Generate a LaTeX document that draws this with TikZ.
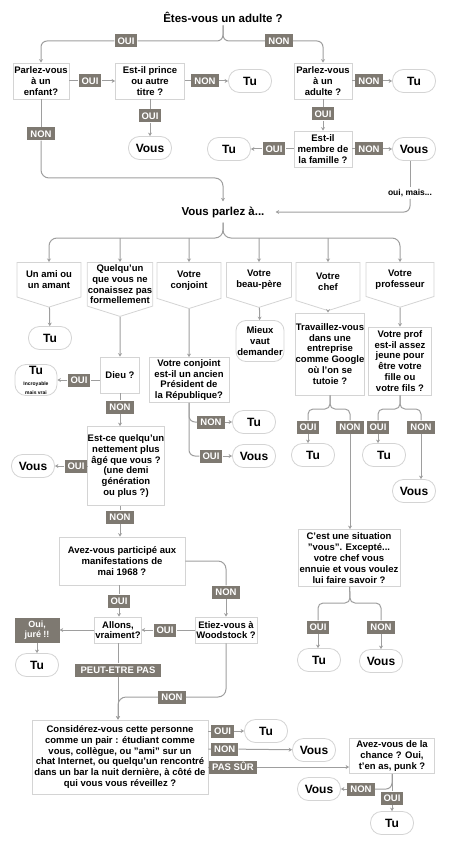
\documentclass[tikz,border=0pt]{standalone}
\usepackage{fontspec}
\setmainfont{Liberation Sans}
\usepackage{tikz}
\usetikzlibrary{arrows.meta,shapes.symbols}
\definecolor{line_gray}{RGB}{158,158,158}
\definecolor{lbl_gray}{RGB}{126,121,113}
\definecolor{box_gray}{RGB}{212,212,212}
\newcommand{\bodyfont}{\bfseries\fontsize{9.5}{10.8}\selectfont}
\tikzstyle{qbox}=[rectangle,draw=box_gray,fill=white,line width=0.8pt,
  align=center,inner sep=0.5pt,font=\bodyfont]
\tikzstyle{pill}=[rectangle,rounded corners=11pt,draw=box_gray,fill=white,
  line width=0.8pt,align=center,inner sep=1pt,minimum width=43pt,
  minimum height=23pt,font=\bfseries\fontsize{12}{13}\selectfont]
\tikzstyle{cat}=[signal,signal to=south,signal pointer angle=145,draw=box_gray,
  fill=white,line width=0.8pt,align=center,inner sep=0.5pt,font=\bodyfont,
  minimum width=64pt,minimum height=42pt]
\tikzstyle{lbl}=[rectangle,fill=lbl_gray,text=white,inner xsep=3pt,
  inner ysep=3pt,text height=7pt,text depth=0pt,font=\bodyfont]
\tikzstyle{big}=[font=\bfseries\fontsize{11.5}{13}\selectfont]
\tikzstyle{conn}=[draw=line_gray,line width=1pt]
\tikzstyle{arr}=[conn,-{Stealth[length=3.5pt,width=4pt]}]

\begin{document}
\begin{tikzpicture}[x=1pt,y=-1pt]
        \useasboundingbox (0,0) rectangle (448,845);
        \node [style=big,inner sep=3pt] (adulte) at (223,17) {Êtes-vous un adulte ?};
        \node [style=qbox,minimum width=56pt,minimum height=36pt] (enfant) at (41,81) {Parlez-vous\\à un\\enfant?};
        \node [style=qbox,minimum width=69pt,minimum height=36pt] (prince) at (150,81) {Est-il prince\\ou autre\\titre ?};
        \node [style=pill] (tu1) at (250,81) {Tu};
        \node [style=qbox,minimum width=58pt,minimum height=36pt] (aadulte) at (323,81) {Parlez-vous\\à un\\adulte ?};
        \node [style=pill] (tu2) at (414,81) {Tu};
        \node [style=pill] (vous1) at (150,148) {Vous};
        \node [style=qbox,minimum width=58pt,minimum height=36pt] (famille) at (323,149) {Est-il\\membre de\\la famille ?};
        \node [style=pill] (tu3) at (229,149) {Tu};
        \node [style=pill] (vous2) at (414,149) {Vous};
        \node [fill=white,inner sep=2pt,font=\bfseries\fontsize{8.5}{10}\selectfont] (mais) at (410,193) {oui, mais...};
        \node [style=big,inner xsep=11pt,inner ysep=5pt] (parlez) at (223,212) {Vous parlez à...};
        \node [style=lbl] (o1) at (126,41) {OUI};
        \node [style=lbl] (n1) at (279,41) {NON};
        \node [style=lbl] (o2) at (90,81) {OUI};
        \node [style=lbl] (n2) at (205,81) {NON};
        \node [style=lbl] (n3) at (369,81) {NON};
        \node [style=lbl] (o3) at (150,116) {OUI};
        \node [style=lbl] (o4) at (323,114) {OUI};
        \node [style=lbl] (o5) at (274,149) {OUI};
        \node [style=lbl] (n4) at (369,149) {NON};
        \node [style=lbl] (n5) at (41,134) {NON};
        \coordinate (ja) at (223,178);
        \coordinate (jl) at (49,238);
        \coordinate (jr) at (400,238);

        \node [style=cat,anchor=north] (ami) at (49,262) {Un ami ou\\un amant};
        \node [style=cat,anchor=north,minimum height=54pt] (inconnu) at (120,262) {Quelqu'un\\que vous ne\\conaissez pas\\formellement};
        \node [style=cat,anchor=north] (conjoint) at (189,262) {Votre\\conjoint};
        \node [style=cat,anchor=north,minimum width=65pt] (beaupere) at (259,262) {Votre\\beau-père};
        \node [style=cat,anchor=north] (chef) at (328,262) {Votre\\chef};
        \node [style=cat,anchor=north,minimum width=68pt] (prof) at (400,262) {Votre\\professeur};

        \node [style=pill] (tu4) at (50,338) {Tu};
        \node [style=qbox,minimum width=39pt,minimum height=36pt] (dieu) at (120,375) {Dieu ?};
        \node [style=pill,minimum width=42pt,minimum height=31pt] (tu5) at (36,380) {Tu\\[-2pt]{\fontsize{5}{5.5}\selectfont Incroyable}\\[-4pt]{\fontsize{5}{5.5}\selectfont mais vrai}};
        \node [style=lbl] (o6) at (79,380) {OUI};
        \node [style=lbl] (n6) at (120,407) {NON};
        \node [style=qbox,minimum width=76pt,minimum height=79pt] (age) at (126,466) {Est-ce quelqu'un\\nettement plus\\âgé que vous ?\\(une demi\\génération\\ou plus ?)};
        \node [style=lbl] (o7) at (76,466) {OUI};
        \node [style=pill] (vous3) at (33,466) {Vous};
        \node [style=lbl] (n7) at (120,517) {NON};
        \node [style=qbox,minimum width=80pt,minimum height=45pt] (pres) at (189,380) {Votre conjoint\\est-il un ancien\\Président de\\la République?};
        \node [style=lbl] (n8) at (211,422) {NON};
        \node [style=pill] (tu6) at (254,422) {Tu};
        \node [style=lbl] (o8) at (211,456) {OUI};
        \node [style=pill] (vous4) at (254,456) {Vous};
        \node [style=pill,minimum width=48pt,minimum height=41pt,rounded corners=10pt,font=\bodyfont] (mieux) at (260,341) {Mieux\\vaut\\demander};
        \node [style=qbox,minimum width=68pt,minimum height=82pt] (google) at (330,354) {Travaillez-vous\\dans une\\entreprise\\comme Google\\où l'on se\\tutoie ?};
        \coordinate (jg) at (330,409);
        \node [style=lbl] (o9) at (308,427) {OUI};
        \node [style=lbl] (n9) at (350,427) {NON};
        \node [style=pill] (tu7) at (313,455) {Tu};
        \node [style=qbox,minimum width=63pt,minimum height=68pt] (jeune) at (400,361) {Votre prof\\est-il assez\\jeune pour\\être votre\\fille ou\\votre fils ?};
        \coordinate (jp) at (400,409);
        \node [style=lbl] (o10) at (378,427) {OUI};
        \node [style=lbl] (n10) at (421,427) {NON};
        \node [style=pill] (tu8) at (384,455) {Tu};
        \node [style=pill] (vous5) at (414,491) {Vous};

        \node [style=qbox,minimum width=102pt,minimum height=57pt] (vexe) at (349,558) {C'est une situation\\"vous". Excepté...\\votre chef vous\\ennuie et vous voulez\\lui faire savoir ?};
        \coordinate (jv) at (350,603);
        \node [style=lbl] (o11) at (318,627) {OUI};
        \node [style=lbl] (n11) at (381,627) {NON};
        \node [style=pill] (tu9) at (319,660) {Tu};
        \node [style=pill] (vous6) at (381,661) {Vous};

        \node [style=qbox,minimum width=126pt,minimum height=48pt] (mai) at (122,561) {Avez-vous participé aux\\manifestations de\\mai 1968 ?};
        \node [style=lbl] (o12) at (119,601) {OUI};
        \node [style=qbox,minimum width=43pt,minimum height=26pt] (vraiment) at (118,630) {Allons,\\vraiment?};
        \node [style=lbl] (n12) at (226,592) {NON};
        \node [style=qbox,minimum width=62pt,minimum height=26pt] (woodstock) at (226,630) {Etiez-vous à\\Woodstock ?};
        \node [style=lbl] (o13) at (165,630) {OUI};
        \node [rectangle,fill=lbl_gray,text=white,align=center,inner sep=1pt,minimum width=45pt,minimum height=25pt,font=\bfseries\fontsize{9}{10}\selectfont] (jure) at (37,630) {Oui,\\juré !!};
        \node [style=pill] (tu10) at (37,665) {Tu};
        \node [style=lbl,inner xsep=6pt] (pp) at (118,670) {PEUT-ETRE PAS};
        \node [style=lbl] (n13) at (172,697) {NON};

        \node [style=qbox,minimum width=176pt,minimum height=74pt] (pair) at (120,757) {Considérez-vous cette personne\\comme un pair : étudiant comme\\vous, collègue, ou "ami" sur un\\chat Internet, ou quelqu'un rencontré\\dans un bar la nuit dernière, à côté de\\qui vous vous réveillez ?};
        \node [style=lbl,anchor=west] (o14) at (211,731) {OUI};
        \node [style=lbl,anchor=west] (n14) at (211,749) {NON};
        \node [style=lbl,anchor=west] (ps) at (209,767) {PAS SÛR};
        \node [style=pill] (tu11) at (266,731) {Tu};
        \node [style=pill] (vous7) at (314,750) {Vous};
        \node [style=qbox,minimum width=85pt,minimum height=35pt] (punk) at (392,756) {Avez-vous de la\\chance ? Oui,\\t'en as, punk ?};
        \node [style=lbl] (n15) at (361,789) {NON};
        \node [style=pill] (vous8) at (319,789) {Vous};
        \node [style=lbl] (o15) at (392,798) {OUI};
        \node [style=pill] (tu12) at (392,823) {Tu};

        \draw [style=conn,rounded corners=6pt] (adulte) |- (o1);
        \draw [style=arr,rounded corners=6pt] (o1) -| (enfant);
        \draw [style=conn,rounded corners=6pt] (adulte) |- (n1);
        \draw [style=arr,rounded corners=6pt] (n1) -| (aadulte);
        \draw [style=arr] (enfant) -- (o2) -- (prince);
        \draw [style=arr] (prince) -- (n2) -- (tu1);
        \draw [style=arr] (aadulte) -- (n3) -- (tu2);
        \draw [style=arr] (prince) -- (o3) -- (vous1);
        \draw [style=arr] (aadulte) -- (o4) -- (famille);
        \draw [style=arr] (famille) -- (o5) -- (tu3);
        \draw [style=arr] (famille) -- (n4) -- (vous2);
        \draw [style=conn] (enfant) -- (n5);
        \draw [style=arr,rounded corners=8pt] (n5) |- (ja) -- (parlez);
        \draw [style=conn] (vous2.south -| mais) -- (mais);
        \draw [style=arr,rounded corners=6pt] (mais) |- (parlez);

        \draw [style=arr,rounded corners=8pt] (parlez) |- (jl) -- (ami);
        \draw [style=arr,rounded corners=8pt] (parlez) |- (jr) -- (prof);
        \draw [style=arr] (inconnu |- jl) -- (inconnu);
        \draw [style=arr] (conjoint |- jl) -- (conjoint);
        \draw [style=arr] (beaupere |- jl) -- (beaupere);
        \draw [style=arr] (chef |- jl) -- (chef);

        \draw [style=arr] (ami) -- (tu4);
        \draw [style=arr] (inconnu) -- (dieu);
        \draw [style=arr] (dieu.west |- o6) -- (o6) -- (tu5);
        \draw [style=conn] (dieu) -- (n6);
        \draw [style=arr] (n6) -- (n6 |- age.north);
        \draw [style=arr] (age) -- (o7) -- (vous3);
        \draw [style=conn] (age.south -| n7) -- (n7);
        \draw [style=arr] (n7) -- (n7 |- mai.north);
        \draw [style=arr] (conjoint) -- (pres);
        \draw [style=conn,rounded corners=6pt] (pres) |- (n8);
        \draw [style=arr] (n8) -- (tu6);
        \draw [style=conn,rounded corners=6pt] (pres) |- (o8);
        \draw [style=arr] (o8) -- (vous4);
        \draw [style=arr] (beaupere) -- (mieux);
        \draw [style=arr] (chef.south) -- (chef.south |- google.north);
        \draw [style=conn,rounded corners=5pt] (google) -- (jg) -| (o9);
        \draw [style=arr] (o9) -- (o9 |- tu7.north);
        \draw [style=conn,rounded corners=5pt] (google) -- (jg) -| (n9);
        \draw [style=arr] (n9) -- (n9 |- vexe.north);
        \draw [style=arr] (prof) -- (jeune);
        \draw [style=conn,rounded corners=5pt] (jeune) -- (jp) -| (o10);
        \draw [style=arr] (o10) -- (o10 |- tu8.north);
        \draw [style=conn,rounded corners=5pt] (jeune) -- (jp) -| (n10);
        \draw [style=arr] (n10) -- (n10 |- vous5.north);

        \draw [style=conn,rounded corners=5pt] (vexe) -- (jv) -| (o11);
        \draw [style=arr] (o11) -- (o11 |- tu9.north);
        \draw [style=conn,rounded corners=5pt] (vexe) -- (jv) -| (n11);
        \draw [style=arr] (n11) -- (n11 |- vous6.north);

        \draw [style=conn] (mai.south -| o12) -- (o12);
        \draw [style=arr] (o12) -- (o12 |- vraiment.north);
        \draw [style=conn,rounded corners=8pt] (mai) -| (n12);
        \draw [style=arr] (n12) -- (woodstock);
        \draw [style=arr] (woodstock) -- (o13) -- (vraiment);
        \draw [style=arr] (vraiment) -- (jure);
        \draw [style=arr] (jure) -- (tu10);
        \draw [style=conn] (vraiment.south -| pp) -- (pp);
        \draw [style=arr] (pp) -- (pp |- pair.north);
        \draw [style=conn,rounded corners=8pt] (woodstock) |- (n13);
        \draw [style=arr,rounded corners=8pt] (n13) -| (pp |- pair.north);

        \draw [style=arr] (pair.east |- o14) -- (o14) -- (tu11);
        \draw [style=arr] (pair.east |- n14) -- (n14) -- (vous7);
        \draw [style=arr] (pair.east |- ps) -- (ps) -- (ps -| punk.west);
        \draw [style=conn,rounded corners=6pt] (punk) |- (n15);
        \draw [style=arr] (n15) -- (vous8);
        \draw [style=arr] (punk) -- (o15) -- (tu12);
\end{tikzpicture}
\end{document}
